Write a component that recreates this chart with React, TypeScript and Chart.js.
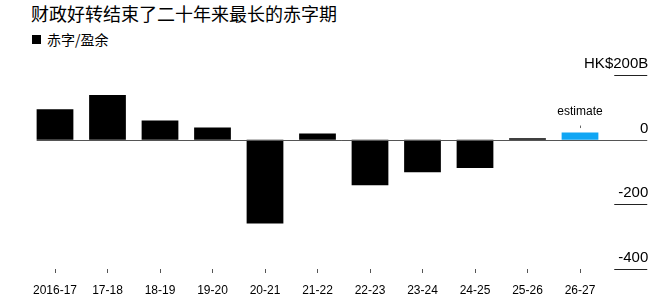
import React, { useEffect, useRef } from "react";
import { Chart, registerables } from "chart.js";

Chart.register(...registerables);

const title = "财政好转结束了二十年来最长的赤字期";
const legendLabel = "赤字/盈余";
const categories = ["2016-17", "17-18", "18-19", "19-20", "20-21", "21-22", "22-23", "23-24", "24-25", "25-26", "26-27"];
const balance = [94, 138, 59, 38, -259, 19, -141, -101, -88, 4, 22];
const estimateCategory = "26-27";
const estimateLabel = "estimate";
const yTicks = [200, 0, -200, -400];
const yTickLabels = ["HK$200B", "0", "-200", "-400"];

const BLACK = "#000000";
const BLUE = "#10a6f4";
const FONT = '"Liberation Sans", Arial, Helvetica, sans-serif';

const overlayPlugin = {
  id: "overlay",
  afterDatasetsDraw(chart: any) {
    const { ctx, scales, chartArea } = chart;
    const y = scales.y;
    const meta = chart.getDatasetMeta(0);
    const first = meta.data[0];
    const left = first.x - first.width / 2;
    const segLeft = chartArea.right + 8;
    const segRight = chartArea.right + 41;
    ctx.save();
    ctx.lineWidth = 1;
    const y0 = Math.round(y.getPixelForValue(0)) + 0.5;
    ctx.strokeStyle = "#555555";
    ctx.beginPath();
    ctx.moveTo(left, y0);
    ctx.lineTo(segRight, y0);
    ctx.stroke();
    ctx.font = `15px ${FONT}`;
    ctx.textAlign = "right";
    ctx.textBaseline = "alphabetic";
    ctx.fillStyle = "#000000";
    yTicks.forEach((v, i) => {
      const py = Math.round(y.getPixelForValue(v)) + 0.5;
      if (v !== 0) {
        ctx.strokeStyle = "#222222";
        ctx.beginPath();
        ctx.moveTo(segLeft, py);
        ctx.lineTo(segRight, py);
        ctx.stroke();
      }
      ctx.fillText(yTickLabels[i], segRight + 1, py - 8);
    });
    const idx = categories.indexOf(estimateCategory);
    const bar = meta.data[idx];
    if (bar) {
      ctx.font = `12px ${FONT}`;
      ctx.textAlign = "center";
      ctx.fillText(estimateLabel, bar.x, bar.y - 18);
      ctx.strokeStyle = "#666666";
      ctx.beginPath();
      ctx.moveTo(Math.round(bar.x) + 0.5, bar.y - 7);
      ctx.lineTo(Math.round(bar.x) + 0.5, bar.y - 4.5);
      ctx.stroke();
    }
    ctx.restore();
  },
};

export default function App() {
  const canvasRef = useRef<HTMLCanvasElement | null>(null);

  useEffect(() => {
    if (!canvasRef.current) return;
    const colors = categories.map((c) => (c === estimateCategory ? BLUE : BLACK));
    const chart = new Chart(canvasRef.current, {
      type: "bar",
      data: {
        labels: categories,
        datasets: [
          {
            data: balance,
            backgroundColor: colors,
            borderWidth: 0,
            barPercentage: 0.7,
            categoryPercentage: 1,
          },
        ],
      },
      options: {
        responsive: false,
        animation: false,
        layout: { padding: { left: 28.75, right: 53.75, top: 75, bottom: 0 } },
        plugins: { legend: { display: false }, tooltip: { enabled: false } },
        scales: {
          x: {
            afterFit: (scale: any) => {
              scale.height = 36;
            },
            grid: {
              display: true,
              drawOnChartArea: false,
              drawTicks: true,
              tickLength: 4,
              offset: false,
              color: "#555555",
            },
            border: { display: false },
            ticks: {
              font: { family: FONT, size: 12 },
              color: "#000000",
              padding: 10.5,
              maxRotation: 0,
              autoSkip: false,
            },
          },
          y: {
            display: false,
            min: -400,
            max: 200,
          },
        },
      },
      plugins: [overlayPlugin],
    });
    return () => chart.destroy();
  }, []);

  return (
    <div style={{ position: "absolute", left: 0, top: 0, width: 660, height: 305, background: "#fff" }}>
      <div
        style={{
          position: "absolute",
          left: 31,
          top: 4,
          fontFamily: '"Noto Sans CJK SC", "Noto Sans", sans-serif',
          fontSize: 18,
          lineHeight: "18px",
          color: "#000",
          whiteSpace: "nowrap",
        }}
      >
        {title}
      </div>
      <div style={{ position: "absolute", left: 32, top: 35, width: 9, height: 9, background: BLACK }} />
      <div
        style={{
          position: "absolute",
          left: 47,
          top: 32,
          fontFamily: '"Noto Sans CJK SC", "Noto Sans", sans-serif',
          fontSize: 14,
          lineHeight: "14px",
          color: "#000",
          whiteSpace: "nowrap",
        }}
      >
        {legendLabel}
      </div>
      <canvas ref={canvasRef} width={660} height={305} style={{ position: "absolute", left: 0, top: 0 }} />
    </div>
  );
}
